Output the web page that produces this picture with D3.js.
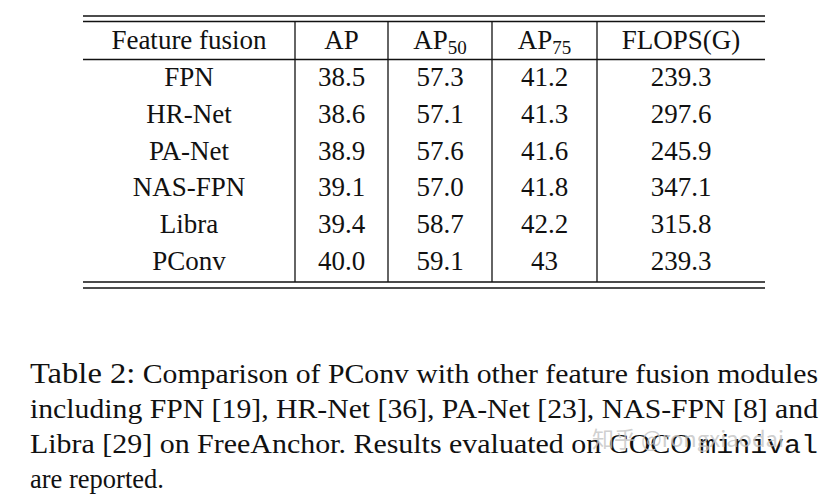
<!DOCTYPE html>
<html><head><meta charset="utf-8">
<script src="https://cdn.jsdelivr.net/npm/d3@7"></script>
<style>body{margin:0;background:#fff} text{font-family:"Liberation Serif",Times,"Times New Roman",serif}</style></head>
<body><svg id="c" width="828" height="504"></svg>
<script>
const headers = ["Feature fusion","AP","AP|50","AP|75","FLOPS(G)"];
const methods = ["FPN","HR-Net","PA-Net","NAS-FPN","Libra","PConv"];
const ap   = ["38.5","38.6","38.9","39.1","39.4","40.0"];
const ap50 = ["57.3","57.1","57.6","57.0","58.7","59.1"];
const ap75 = ["41.2","41.3","41.6","41.8","42.2","43"];
const flops= ["239.3","297.6","245.9","347.1","315.8","239.3"];
const captionLines = [
 "Table 2: Comparison of PConv with other feature fusion modules",
 "including FPN [19], HR-Net [36], PA-Net [23], NAS-FPN [8] and"
];

const svg = d3.select("#c");
const colEdges = [83,295,388,492,597,765];
const colX = d3.scaleOrdinal().domain(d3.range(5)).range(d3.range(5).map(i=>(colEdges[i]+colEdges[i+1])/2));
const rowY = d3.scaleLinear().domain([0,5]).range([77,261]);
const cols = [methods,ap,ap50,ap75,flops];

const L = (x1,y1,x2,y2,w=1.6)=>svg.append("line").attr("x1",x1).attr("y1",y1).attr("x2",x2).attr("y2",y2).attr("stroke","#111").attr("stroke-width",w);
L(83,16,765,16); L(83,21.5,765,21.5); L(83,59.5,765,59.5);
L(83,282,765,282); L(83,288,765,288);
colEdges.slice(1,5).forEach(x=>L(x,21.5,x,282,1.3));

headers.forEach((h,i)=>{
  const [t,s]=h.split("|");
  const tx=svg.append("text").attr("x",colX(i)).attr("y",49).attr("text-anchor","middle")
    .attr("font-size",27).attr("fill","#111");
  tx.append("tspan").text(t);
  if(s) tx.append("tspan").attr("font-size",19).attr("dy",5).text(s);
});
cols.forEach((c,i)=>c.forEach((v,j)=>{
  svg.append("text").attr("x",colX(i)).attr("y",rowY(j)+9).attr("text-anchor","middle")
    .attr("font-size",27).attr("fill","#111").text(v);
}));

const cap = (y)=>svg.append("text").attr("x",30).attr("y",y).attr("font-size",26.5).attr("fill","#111");
captionLines.forEach((l,i)=>{
  const t=cap(383+i*35);
  if(i===0){t.append("tspan").attr("font-size",29).text("Table 2:");t.append("tspan").text(l.slice(8));}
  else t.text(l);
  t.attr("textLength",788).attr("lengthAdjust","spacingAndGlyphs");
});
const t3=cap(453);
t3.append("tspan").text("Libra [29] on FreeAnchor. Results evaluated on COCO ");
t3.append("tspan").style("font-family","'Liberation Mono',monospace").attr("font-size",25).text("minival");
t3.attr("textLength",788).attr("lengthAdjust","spacingAndGlyphs");
cap(488).text("are reported.");

svg.append("text").attr("x",592).attr("y",447).style("font-family","'Noto Sans CJK SC','DejaVu Sans',sans-serif")
  .attr("font-size",22).attr("fill","#c4c4c4").attr("fill-opacity",0.8).text("知乎 @rongxiaodai");
</script></body></html>
